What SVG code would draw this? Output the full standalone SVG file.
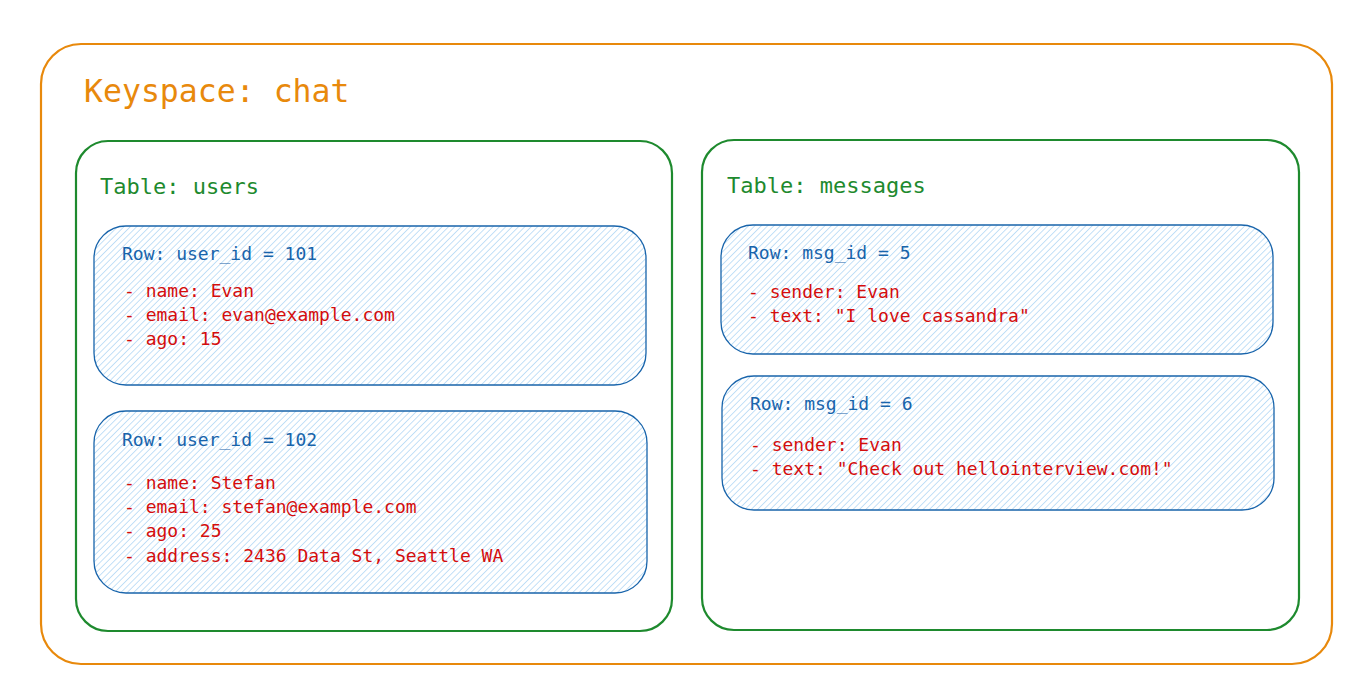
<svg xmlns="http://www.w3.org/2000/svg" width="1358" height="677" viewBox="0 0 1358 677">
<defs>
<pattern id="hatch" width="4.5" height="4.5" patternUnits="userSpaceOnUse" patternTransform="rotate(45)">
<rect width="4.5" height="4.5" fill="#ffffff"/>
<line x1="0" y1="0" x2="0" y2="4.5" stroke="#9ccdf2" stroke-width="1.2"/>
</pattern>
<style>
text{font-family:"DejaVu Sans Mono","Liberation Mono",monospace;}
.ks{fill:#e8890c;font-size:31.5px;}
.tb{fill:#1e8a2e;font-size:22px;}
.rw{fill:#1864ab;font-size:18px;}
.fd{fill:#d40d0d;font-size:18px;}
.outer{fill:none;stroke:#e8890c;stroke-width:2.2;}
.table{fill:none;stroke:#1e8a2e;stroke-width:2.2;}
.row{fill:url(#hatch);stroke:#1864ab;stroke-width:1.3;}
</style>
</defs>
<rect width="1358" height="677" fill="#ffffff"/>
<g id="keyspace">
<rect class="outer" x="41" y="44" width="1291" height="620" rx="40"/>
<text class="ks" x="84" y="102">Keyspace: chat</text>
</g>
<g id="table-users">
<rect class="table" x="76" y="141" width="596" height="490" rx="32"/>
<text class="tb" x="100" y="194">Table: users</text>
</g>
<g id="table-messages">
<rect class="table" x="702" y="140" width="597" height="490" rx="32"/>
<text class="tb" x="727" y="193">Table: messages</text>
</g>
<g id="row-user-101">
<rect class="row" x="94" y="226" width="552" height="159" rx="32"/>
<text class="rw" x="122" y="260">Row: user_id = 101</text>
<text class="fd" x="124" y="297">- name: Evan</text>
<text class="fd" x="124" y="321">- email: evan@example.com</text>
<text class="fd" x="124" y="345">- ago: 15</text>
</g>
<g id="row-user-102">
<rect class="row" x="94" y="411" width="553" height="182" rx="32"/>
<text class="rw" x="122" y="446">Row: user_id = 102</text>
<text class="fd" x="124" y="489">- name: Stefan</text>
<text class="fd" x="124" y="513">- email: stefan@example.com</text>
<text class="fd" x="124" y="537">- ago: 25</text>
<text class="fd" x="124" y="562">- address: 2436 Data St, Seattle WA</text>
</g>
<g id="row-msg-5">
<rect class="row" x="721" y="225" width="552" height="129" rx="32"/>
<text class="rw" x="748" y="259">Row: msg_id = 5</text>
<text class="fd" x="748" y="298">- sender: Evan</text>
<text class="fd" x="748" y="322">- text: "I love cassandra"</text>
</g>
<g id="row-msg-6">
<rect class="row" x="722" y="376" width="552" height="134" rx="32"/>
<text class="rw" x="750" y="410">Row: msg_id = 6</text>
<text class="fd" x="750" y="451">- sender: Evan</text>
<text class="fd" x="750" y="475">- text: "Check out hellointerview.com!"</text>
</g>
<g id="connectors"/>
</svg>
